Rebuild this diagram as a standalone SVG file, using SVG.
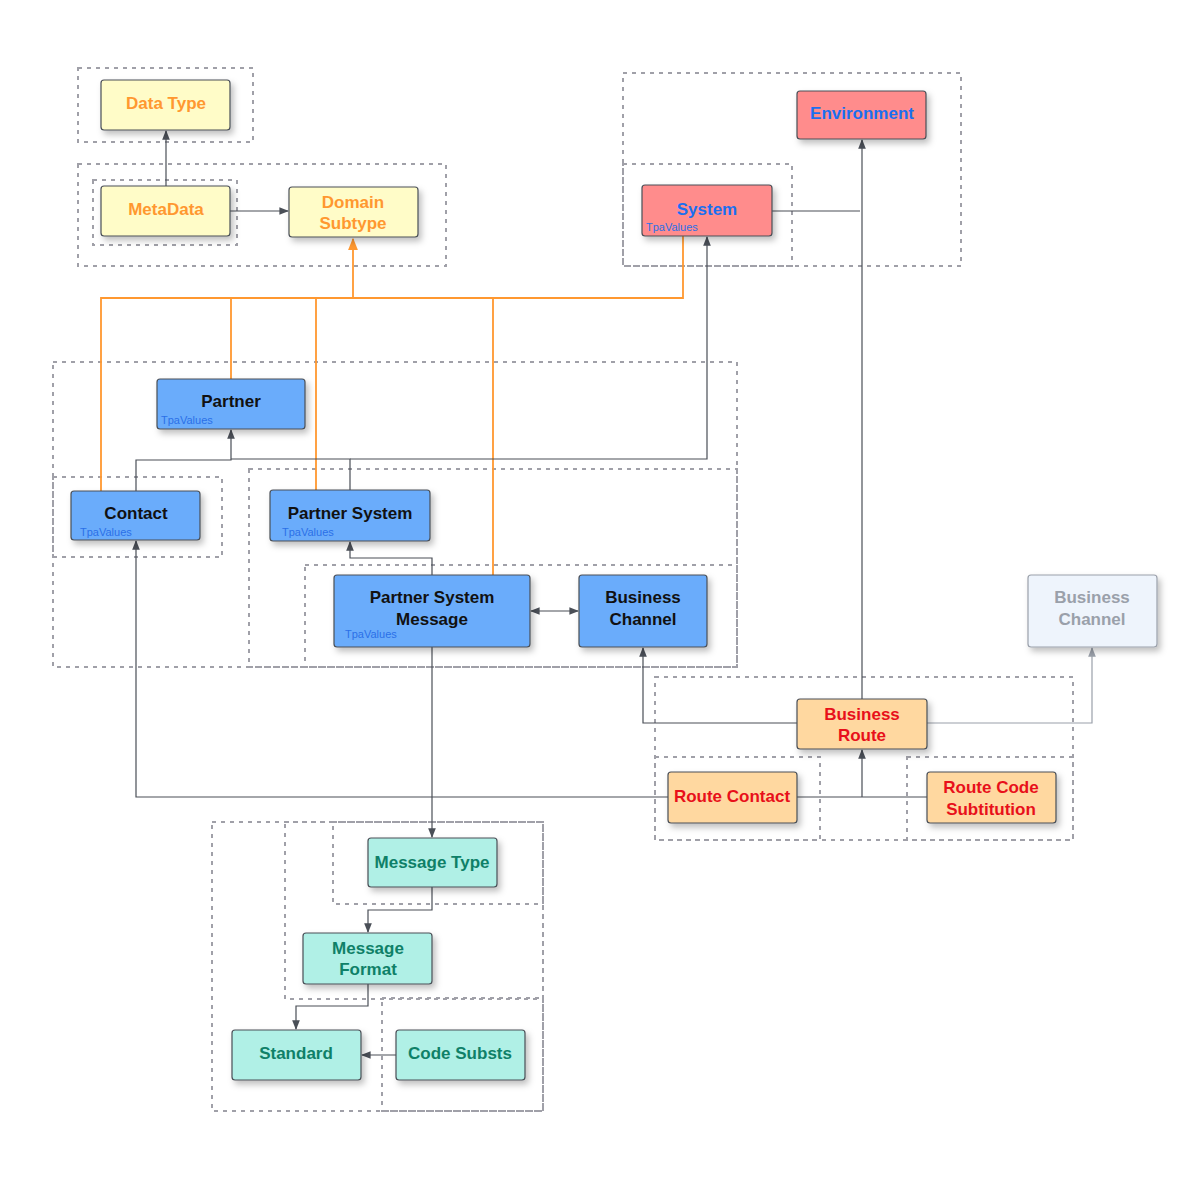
<svg xmlns="http://www.w3.org/2000/svg" width="1200" height="1187" viewBox="0 0 1200 1187">
<style>
text{font-family:"Liberation Sans",Arial,sans-serif;font-weight:bold;font-size:17px;text-anchor:middle}
.g{fill:none;stroke:#a0a0a8;stroke-width:2;stroke-dasharray:4 5}
.n{stroke:#4a4f57;stroke-width:1.2;filter:url(#sh)}
.y{fill:#fffcc8}.r{fill:#ff8c8c}.b{fill:#6aacfb}.o{fill:#ffd8a0}.t{fill:#b0f0e6}.f{fill:#eef4fc;stroke:#9aa0aa}
.ty{fill:#ff9830}.tr{fill:#1a6ff0}.tb{fill:#111}.to{fill:#e8101a}.tt{fill:#0f8068}.tf{fill:#9aa0aa}
.tpa{font-size:11px;font-weight:normal;text-anchor:start;fill:#2a70e8}
.c{fill:none;stroke:#4a4f57;stroke-width:1.2}
.oc{fill:none;stroke:#ff9830;stroke-width:1.8}
</style>
<defs>
<filter id="sh" x="-10%" y="-10%" width="130%" height="140%"><feDropShadow dx="3" dy="4" stdDeviation="3" flood-color="#000" flood-opacity="0.25"/></filter>
<marker id="a" viewBox="0 0 10 10" refX="9" refY="5" markerWidth="8" markerHeight="8" orient="auto-start-reverse"><path d="M0,1L10,5L0,9z" fill="#4a4f57"/></marker>
<marker id="ao" viewBox="0 0 10 10" refX="9" refY="5" markerWidth="7" markerHeight="7" orient="auto"><path d="M0,1L10,5L0,9z" fill="#ff9830"/></marker>
<marker id="af" viewBox="0 0 10 10" refX="9" refY="5" markerWidth="8" markerHeight="8" orient="auto"><path d="M0,1L10,5L0,9z" fill="#9aa0aa"/></marker>
</defs>
<rect width="1200" height="1187" fill="#fff"/>
<g id="groups">
<rect class="g" x="78" y="68" width="175" height="74"/>
<rect class="g" x="78" y="164" width="368" height="102"/>
<rect class="g" x="93" y="180" width="144" height="65"/>
<rect class="g" x="623" y="73" width="338" height="193"/>
<rect class="g" x="623" y="164" width="169" height="102"/>
<rect class="g" x="53" y="362" width="684" height="305"/>
<rect class="g" x="53" y="477" width="169" height="80"/>
<rect class="g" x="249" y="469" width="488" height="198"/>
<rect class="g" x="305" y="565" width="432" height="102"/>
<rect class="g" x="655" y="677" width="418" height="163"/>
<rect class="g" x="655" y="757" width="165" height="83"/>
<rect class="g" x="907" y="757" width="166" height="83"/>
<rect class="g" x="212" y="822" width="331" height="289"/>
<rect class="g" x="333" y="822" width="210" height="82"/>
<rect class="g" x="285" y="822" width="258" height="177"/>
<rect class="g" x="382" y="998" width="161" height="113"/>
</g>
<g id="connectors">
<path class="oc" d="M683,236V298H101V491M231,298V379M316,298V490M493,298V575"/>
<path class="oc" d="M353,298V239" marker-end="url(#ao)"/>
<path class="c" d="M166,186V131" marker-end="url(#a)"/>
<path class="c" d="M230,211H288" marker-end="url(#a)"/>
<path class="c" d="M136,491V460H231V430" marker-end="url(#a)"/>
<path class="c" d="M350,490V459H231"/>
<path class="c" d="M350,459H707V237" marker-end="url(#a)"/>
<path class="c" d="M432,575V558H350V542" marker-end="url(#a)"/>
<path class="c" d="M531,611H578" marker-start="url(#a)" marker-end="url(#a)"/>
<path class="c" d="M432,647V837" marker-end="url(#a)"/>
<path class="c" d="M797,723H643V648" marker-end="url(#a)"/>
<path fill="none" stroke="#9aa0aa" stroke-width="1.2" d="M927,723H1092V648" marker-end="url(#af)"/>
<path class="c" d="M862,699V140" marker-end="url(#a)"/>
<path class="c" d="M772,211H860"/>
<path class="c" d="M668,797H136V541" marker-end="url(#a)"/>
<path class="c" d="M797,797H862M927,797H862V750" marker-end="url(#a)"/>
<path class="c" d="M432,887V910H368V932" marker-end="url(#a)"/>
<path class="c" d="M368,984V1006H296V1029" marker-end="url(#a)"/>
<path class="c" d="M396,1055H362" marker-end="url(#a)"/>
</g>
<g id="datatype"><rect class="n y" x="101" y="80" width="129" height="50" rx="3"/><text class="ty" x="166" y="109">Data Type</text></g>
<g id="metadata"><rect class="n y" x="101" y="186" width="129" height="50" rx="3"/><text class="ty" x="166" y="215">MetaData</text></g>
<g id="domainsubtype"><rect class="n y" x="289" y="187" width="129" height="50" rx="3"/><text class="ty" x="353" y="208">Domain</text><text class="ty" x="353" y="229">Subtype</text></g>
<g id="environment"><rect class="n r" x="797" y="91" width="129" height="48" rx="3"/><text class="tr" x="862" y="119">Environment</text></g>
<g id="system"><rect class="n r" x="642" y="185" width="130" height="51" rx="3"/><text class="tr" x="707" y="215">System</text><text class="tpa" x="646" y="231">TpaValues</text></g>
<g id="partner"><rect class="n b" x="157" y="379" width="148" height="50" rx="3"/><text class="tb" x="231" y="407">Partner</text><text class="tpa" x="161" y="424">TpaValues</text></g>
<g id="contact"><rect class="n b" x="71" y="491" width="129" height="49" rx="3"/><text class="tb" x="136" y="519">Contact</text><text class="tpa" x="80" y="536">TpaValues</text></g>
<g id="partnersystem"><rect class="n b" x="270" y="490" width="160" height="51" rx="3"/><text class="tb" x="350" y="519">Partner System</text><text class="tpa" x="282" y="536">TpaValues</text></g>
<g id="psm"><rect class="n b" x="334" y="575" width="196" height="72" rx="3"/><text class="tb" x="432" y="603">Partner System</text><text class="tb" x="432" y="625">Message</text><text class="tpa" x="345" y="638">TpaValues</text></g>
<g id="businesschannel"><rect class="n b" x="579" y="575" width="128" height="72" rx="3"/><text class="tb" x="643" y="603">Business</text><text class="tb" x="643" y="625">Channel</text></g>
<g id="businesschannel2"><rect class="n f" x="1028" y="575" width="129" height="72" rx="3"/><text class="tf" x="1092" y="603">Business</text><text class="tf" x="1092" y="625">Channel</text></g>
<g id="businessroute"><rect class="n o" x="797" y="699" width="130" height="50" rx="3"/><text class="to" x="862" y="720">Business</text><text class="to" x="862" y="741">Route</text></g>
<g id="routecontact"><rect class="n o" x="668" y="772" width="129" height="51" rx="3"/><text class="to" x="732" y="802">Route Contact</text></g>
<g id="routecode"><rect class="n o" x="927" y="772" width="129" height="51" rx="3"/><text class="to" x="991" y="793">Route Code</text><text class="to" x="991" y="815">Subtitution</text></g>
<g id="messagetype"><rect class="n t" x="368" y="838" width="129" height="49" rx="3"/><text class="tt" x="432" y="868">Message Type</text></g>
<g id="messageformat"><rect class="n t" x="303" y="933" width="129" height="51" rx="3"/><text class="tt" x="368" y="954">Message</text><text class="tt" x="368" y="975">Format</text></g>
<g id="standard"><rect class="n t" x="232" y="1030" width="129" height="50" rx="3"/><text class="tt" x="296" y="1059">Standard</text></g>
<g id="codesubsts"><rect class="n t" x="396" y="1030" width="129" height="50" rx="3"/><text class="tt" x="460" y="1059">Code Substs</text></g>
</svg>
